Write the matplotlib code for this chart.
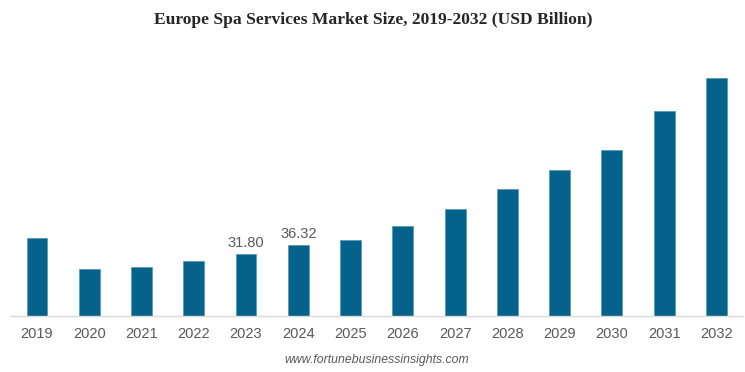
import matplotlib
matplotlib.use("Agg")
import matplotlib.pyplot as plt

years = ["2019", "2020", "2021", "2022", "2023", "2024", "2025",
         "2026", "2027", "2028", "2029", "2030", "2031", "2032"]
values = [40.0, 23.9, 25.1, 28.2, 31.80, 36.32, 38.9,
          46.1, 55.0, 65.1, 75.0, 85.0, 104.9, 121.9]
labeled = {"2023": "31.80", "2024": "36.32"}

W, H = 745, 372
fig = plt.figure(figsize=(W / 100, H / 100), dpi=100)
left, right = 10 / W, 743 / W
bottom = (H - 316) / H
top_px = 50
ax = fig.add_axes([left, bottom, right - left, (316 - top_px) / H])

x = list(range(len(years)))
ax.bar(x, values, width=0.4, color="#05628A", edgecolor="#5a9ab8", linewidth=0.6)
ax.set_xlim(-0.517, 13.51)
ax.set_ylim(0, (316 - top_px) / 1.952)

for i, (yr, v) in enumerate(zip(years, values)):
    if yr in labeled:
        ax.text(i, v + 2.0, labeled[yr], ha="center", va="bottom",
                fontsize=10.5, color="#595959", family="Liberation Sans")

ax.set_xticks(x)
ax.set_xticklabels(years, fontsize=10.5, color="#595959", family="Liberation Sans")
ax.tick_params(axis="x", length=0, pad=8)
ax.set_yticks([])
for s in ["top", "right", "left"]:
    ax.spines[s].set_visible(False)
ax.spines["bottom"].set_color("#d9d9d9")
ax.spines["bottom"].set_linewidth(1.0)

fig.text(373 / W, 1 - 20 / H, "Europe Spa Services Market Size, 2019-2032 (USD Billion)",
         ha="center", va="center", fontsize=12.6, fontweight="bold",
         color="#262626", family="Liberation Serif")
fig.text(377 / W, 1 - 360 / H, "www.fortunebusinessinsights.com",
         ha="center", va="center", fontsize=8.8, style="italic",
         color="#595959", family="Liberation Sans")

fig.savefig("out.png", dpi=100)
